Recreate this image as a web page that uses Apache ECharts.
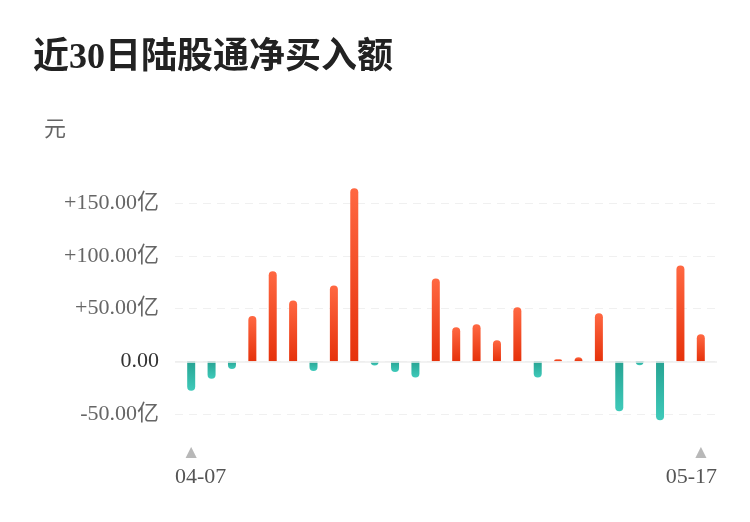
<!DOCTYPE html>
<html>
<head>
<meta charset="utf-8">
<script src="https://cdn.jsdelivr.net/npm/echarts@6/dist/echarts.min.js"></script>
<style>
  html, body { margin: 0; padding: 0; background: #fff; }
  #chart { width: 750px; height: 522px; }
</style>
</head>
<body>
<div id="chart"></div>
<script>
// trading days shown on the x axis (only first and last are labelled)
const dates = ['04-07', '04-08', '04-09', '04-12', '04-13', '04-14', '04-15', '04-16', '04-19',
  '04-20', '04-21', '04-22', '04-23', '04-26', '04-27', '04-28', '04-29', '04-30',
  '05-06', '05-07', '05-10', '05-11', '05-12', '05-13', '05-14', '05-17']
// northbound net buy, 亿元
const netBuy = [-28, -16.5, -7.3, 43, 85.4, 57.6, -9.2, 71.8, 163.9, -4.1, -10.1, -15.5, 78.5,
  32.3, 35.1, 19.9, 51.2, -15.5, 1.9, 3.8, 45.5, -47.4, -3.8, -56, 90.8, 25.6]
const yTicks = { min: -50, max: 150, interval: 50 }

const serif = "'Liberation Serif', 'Noto Sans CJK SC', serif"
const upColor = new echarts.graphic.LinearGradient(0, 0, 0, 1, [
  { offset: 0, color: '#ff6842' }, { offset: 1, color: '#e6320b' }])
const downColor = new echarts.graphic.LinearGradient(0, 0, 0, 1, [
  { offset: 0, color: '#26a392' }, { offset: 1, color: '#3fcaba' }])

let chart = echarts.init(document.getElementById('chart'))
chart.setOption({
  animation: false,
  title: {
    text: '近30日陆股通净买入额',
    left: 28, top: 36,
    textStyle: { fontSize: 36, fontWeight: 'bold', color: '#222', fontFamily: serif }
  },
  grid: [
    { left: 175, right: 33, top: 203, bottom: 108 },
    { left: 181, right: 39, top: 203, bottom: 108 }
  ],
  xAxis: [
    {
      gridIndex: 0, type: 'category', boundaryGap: false,
      data: [dates[0], dates[dates.length - 1]],
      axisLine: { show: false }, axisTick: { show: false }, splitLine: { show: false },
      axisLabel: {
        margin: 52, fontSize: 22, color: '#555', fontFamily: serif,
        alignMinLabel: 'left', alignMaxLabel: 'right'
      }
    },
    {
      gridIndex: 1, type: 'category', data: dates,
      axisLine: { show: false }, axisTick: { show: false }, splitLine: { show: false },
      axisLabel: {
        margin: 29, fontSize: 19, color: '#b8b8b8',
        interval: (i) => i === 0 || i === dates.length - 1,
        formatter: () => '▲'
      }
    }
  ],
  yAxis: [
    {
      gridIndex: 0, type: 'value', min: yTicks.min, max: yTicks.max, interval: yTicks.interval,
      name: '元', nameLocation: 'end', nameGap: 0,
      nameTextStyle: { fontSize: 22, color: '#666', fontFamily: serif, align: 'left', padding: [0, 0, 62, -131] },
      axisLine: { show: false }, axisTick: { show: false },
      axisLabel: {
        margin: 16, fontSize: 22, fontFamily: serif,
        color: (v) => (Number(v) === 0 ? '#333' : '#666'),
        formatter: (v) => v === 0 ? '0.00' : (v > 0 ? '+' : '') + v.toFixed(2) + '亿'
      },
      splitLine: { lineStyle: { color: '#f0f0f0', type: [8, 6], width: 1 } }
    },
    {
      gridIndex: 1, type: 'value', min: yTicks.min, max: yTicks.max, interval: yTicks.interval,
      show: false, splitLine: { show: false }
    }
  ],
  series: [
    {
      type: 'line', xAxisIndex: 0, yAxisIndex: 0, data: [],
      markLine: {
        silent: true, symbol: 'none', label: { show: false },
        lineStyle: { color: '#eeeeee', type: 'solid', width: 1.5 },
        data: [{ yAxis: 0 }]
      }
    },
    {
      type: 'bar', xAxisIndex: 1, yAxisIndex: 1, barWidth: 8, clip: false,
      data: netBuy.map(v => ({
        value: v,
        itemStyle: {
          color: v >= 0 ? upColor : downColor,
          borderRadius: v >= 0 ? [4, 4, 0, 0] : [0, 0, 4, 4]
        }
      }))
    }
  ]
})
</script>
</body>
</html>
